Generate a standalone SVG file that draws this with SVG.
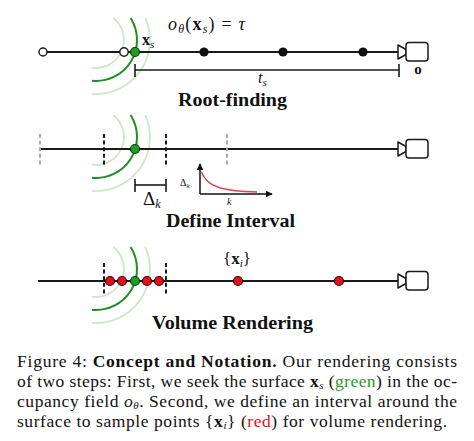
<svg xmlns="http://www.w3.org/2000/svg" width="474" height="441" viewBox="0 0 474 441">
<defs>
<style>
.ray{stroke:#1a1a1a;stroke-width:2;fill:none}
.tick{stroke:#1a1a1a;stroke-width:1.6;fill:none}
.dash{stroke:#1a1a1a;stroke-width:2;stroke-dasharray:4 2.6;fill:none}
.gdash{stroke:#aaaaaa;stroke-width:2;stroke-dasharray:4 2.6;fill:none}
.arcMain{stroke:#1f8f1f;stroke-width:2;fill:none}
.arcLight{stroke:#cde8c6;stroke-width:1.8;fill:none}
.open{fill:#ffffff;stroke:#1a1a1a;stroke-width:1.4}
.black{fill:#111111}
.green{fill:#1e9e1e;stroke:#0d3d0d;stroke-width:1.2}
.red{fill:#e3101a;stroke:#3a0a0a;stroke-width:1.2}
.cam{fill:#ffffff;stroke:#1a1a1a;stroke-width:1.5;stroke-linejoin:round}
.serif{font-family:'Liberation Serif','Times New Roman',serif;fill:#111111}
.title{font-family:'Liberation Serif','Times New Roman',serif;font-weight:bold;font-size:18px;fill:#111111}
.cap{font-family:'Liberation Serif','Times New Roman',serif;font-size:17.5px;fill:#111111}
</style>
<g id="surface">
<path class="arcLight" d="M113.3,18 A28,28 0 0 1 92,67.7"/>
<path class="arcLight" d="M145.3,18 A54,54 0 0 1 92,93.9"/>
<path class="arcMain" d="M130.6,18 A41,41 0 0 1 92,80.8"/>
</g>
<g id="camera">
<path class="cam" d="M398,45 L406,49.5 L406,54.5 L398,59 Z"/>
<rect class="cam" x="406" y="42.5" width="22" height="18.5" rx="3"/>
</g>
<marker id="arr" viewBox="0 0 10 10" refX="9" refY="5" markerWidth="7" markerHeight="7" orient="auto" markerUnits="userSpaceOnUse">
<path d="M0,0 L10,5 L0,10 Z" fill="#111111"/>
</marker>
</defs>
<rect width="474" height="441" fill="#ffffff"/>

<g id="panel-root">
<use href="#surface"/>
<g id="connectors-root">
<line class="ray" x1="43" y1="52" x2="398" y2="52"/>
<line class="tick" x1="135" y1="70" x2="399" y2="70"/>
<line class="tick" x1="135" y1="64" x2="135" y2="77"/>
<line class="tick" x1="399" y1="64" x2="399" y2="77"/>
</g>
<circle class="open" cx="43" cy="52" r="4"/>
<circle class="open" cx="124" cy="52" r="4.2"/>
<circle class="green" cx="135" cy="52" r="4.5"/>
<circle class="black" cx="204" cy="52" r="4.6"/>
<circle class="black" cx="283" cy="52" r="4.6"/>
<circle class="black" cx="363" cy="52" r="4.6"/>
<use href="#camera"/>
<text class="serif" x="168" y="30" font-size="18" textLength="77" lengthAdjust="spacing"><tspan font-style="italic">o</tspan><tspan font-style="italic" font-size="12" dy="3">θ</tspan><tspan dy="-3">(</tspan><tspan font-weight="bold">x</tspan><tspan font-style="italic" font-size="12" dy="3">s</tspan><tspan dy="-3">) = </tspan><tspan font-style="italic">τ</tspan></text>
<text class="serif" x="142" y="45" font-size="16"><tspan font-weight="bold">x</tspan><tspan font-style="italic" font-size="11" dy="3">s</tspan></text>
<text class="serif" x="258" y="83" font-size="16"><tspan font-style="italic">t</tspan><tspan font-style="italic" font-size="11" dy="3">s</tspan></text>
<text class="serif" x="418" y="74" font-size="15" font-weight="bold" text-anchor="middle">o</text>
<text class="title" x="178" y="106" textLength="109" lengthAdjust="spacingAndGlyphs">Root-finding</text>
</g>

<g id="panel-interval">
<use href="#surface" y="97"/>
<g id="connectors-interval">
<line class="ray" x1="40" y1="149" x2="398" y2="149"/>
<line class="gdash" x1="40" y1="134" x2="40" y2="165"/>
<line class="gdash" x1="227" y1="134" x2="227" y2="165"/>
<line class="dash" x1="104" y1="134" x2="104" y2="165"/>
<line class="dash" x1="166" y1="134" x2="166" y2="165"/>
<line class="tick" x1="135" y1="185" x2="166" y2="185"/>
<line class="tick" x1="135" y1="179" x2="135" y2="192"/>
<line class="tick" x1="166" y1="179" x2="166" y2="192"/>
</g>
<circle class="green" cx="135" cy="149" r="4.5"/>
<use href="#camera" y="97"/>
<text class="serif" x="143" y="205" font-size="19">Δ<tspan font-style="italic" font-size="12" dy="3">k</tspan></text>
<g id="plot">
<line stroke="#111111" stroke-width="1.5" x1="200" y1="194" x2="200" y2="164" marker-end="url(#arr)"/>
<line stroke="#111111" stroke-width="1.5" x1="200" y1="194" x2="272" y2="194" marker-end="url(#arr)"/>
<path d="M201.5,172 C207,187 222,191 257,192" stroke="#e0424c" stroke-width="1.5" fill="none"/>
<text class="serif" x="180" y="186" font-size="10">Δ<tspan font-style="italic" font-size="7" dy="2">k</tspan></text>
<text class="serif" x="227" y="205" font-size="10" font-style="italic">k</text>
</g>
<text class="title" x="166" y="227" textLength="129" lengthAdjust="spacingAndGlyphs">Define Interval</text>
</g>

<g id="panel-volume">
<use href="#surface" y="229"/>
<g id="connectors-volume">
<line class="ray" x1="38" y1="281" x2="398" y2="281"/>
<line class="dash" x1="104" y1="263" x2="104" y2="296"/>
<line class="dash" x1="166" y1="263" x2="166" y2="296"/>
</g>
<circle class="red" cx="110" cy="281" r="4.5"/>
<circle class="red" cx="122" cy="281" r="4.5"/>
<circle class="green" cx="135" cy="281" r="4.5"/>
<circle class="red" cx="147" cy="281" r="4.5"/>
<circle class="red" cx="159" cy="281" r="4.5"/>
<circle class="red" cx="238" cy="281" r="4.5"/>
<circle class="red" cx="339" cy="281" r="4.5"/>
<use href="#camera" y="229"/>
<text class="serif" x="223" y="264" font-size="17">{<tspan font-weight="bold">x</tspan><tspan font-style="italic" font-size="11" dy="3">i</tspan><tspan dy="-3">}</tspan></text>
<text class="title" x="152" y="329" textLength="161" lengthAdjust="spacingAndGlyphs">Volume Rendering</text>
</g>

<g id="caption">
<text class="cap" x="17" y="367" textLength="440" lengthAdjust="spacing">Figure 4: <tspan font-weight="bold">Concept and Notation.</tspan> Our rendering consists</text>
<text class="cap" x="17" y="387" textLength="440" lengthAdjust="spacing">of two steps: First, we seek the surface <tspan font-weight="bold">x</tspan><tspan font-style="italic" font-size="11" dy="2">s</tspan><tspan dy="-2"> (</tspan><tspan fill="#2a9a2a">green</tspan>) in the oc-</text>
<text class="cap" x="17" y="407" textLength="440" lengthAdjust="spacing">cupancy field <tspan font-style="italic">o</tspan><tspan font-style="italic" font-size="11" dy="2">θ</tspan><tspan dy="-2">. Second, we define an interval around the</tspan></text>
<text class="cap" x="17" y="427" textLength="430" lengthAdjust="spacing">surface to sample points {<tspan font-weight="bold">x</tspan><tspan font-style="italic" font-size="11" dy="2">i</tspan><tspan dy="-2">} (</tspan><tspan fill="#e3101a">red</tspan>) for volume rendering.</text>
</g>
</svg>
